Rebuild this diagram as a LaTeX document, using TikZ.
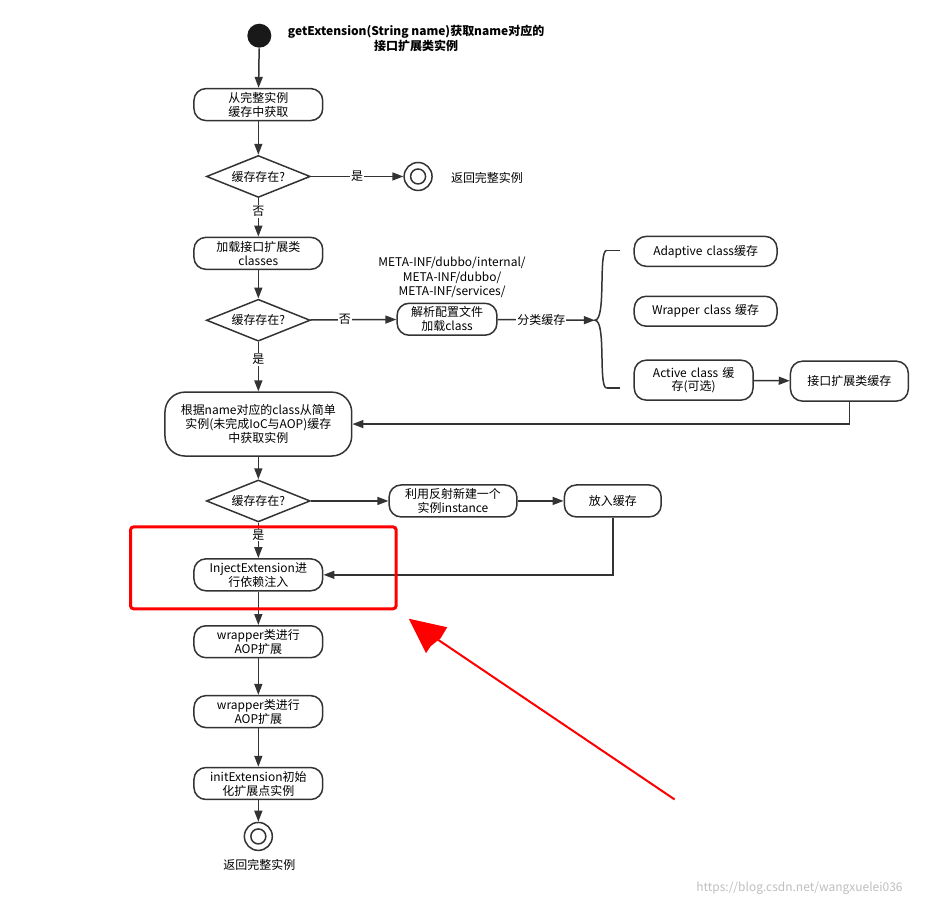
\documentclass[tikz,border=0pt]{standalone}
\usepackage{fontspec}
\setmainfont{Noto Sans CJK SC}
\usetikzlibrary{shapes.geometric,arrows.meta,decorations.pathreplacing}
\begin{document}
\begin{tikzpicture}[x=1pt,y=-1pt,
  font=\fontsize{12}{14}\selectfont,
  every path/.style={line width=1.5pt,draw=black!80},
  box/.style={draw=black!80,line width=1.5pt,rounded corners=12pt,align=center,inner sep=0pt,minimum height=32pt,text width=#1,minimum width=#1},
  box/.default=129pt,
  dia/.style={draw=black!80,line width=1.5pt,diamond,aspect=2.5,minimum width=104pt,minimum height=42pt,inner sep=0pt},
  arr/.style={-{Triangle[length=11pt,width=8pt]},line width=1.5pt,draw=black!80},
  lab/.style={fill=white,inner sep=1pt}]
\useasboundingbox (0,0) rectangle (935,909);
\fill[white] (0,0) rectangle (935,909);
\node[circle,fill=black!90,minimum size=24pt,inner sep=0pt] (s) at (259,35) {};
\node[align=center,font=\fontsize{12}{15}\selectfont\bfseries] (t) at (416,38) {getExtension(String name)获取name对应的\\接口扩展类实例};
\node[box] (b1) at (258,104) {从完整实例\\缓存中获取};
\node[dia] (d1) at (258,176) {缓存存在?};
\node[circle,draw=black!80,line width=1.5pt,minimum size=28pt,inner sep=0pt] (e1) at (418,176) {};
\node[circle,draw=black!80,line width=1.5pt,minimum size=15pt,inner sep=0pt] at (e1) {};
\node (e1t) at (487,177) {返回完整实例};
\node[box] (b2) at (258,253) {加载接口扩展类\\classes};
\node[dia] (d2) at (258,320) {缓存存在?};
\node[box=100pt] (p) at (447,319) {解析配置文件\\加载class};
\node[align=center,font=\fontsize{12}{15}\selectfont] (meta) at (452,277) {META-INF/dubbo/internal/\\META-INF/dubbo/\\META-INF/services/};
\coordinate (br) at (595,320);
\draw (607,250) .. controls (598,250) and (607,320) .. (595,320) .. controls (607,320) and (598,388) .. (607,388);
\draw (607,250) -- (620,250) (607,388) -- (620,388);
\node[box=143pt,minimum height=30pt] (ad) at (706,251) {Adaptive class缓存};
\node[box=143pt,minimum height=30pt] (wr) at (706,311) {Wrapper class 缓存};
\node[box=119pt,minimum height=40pt] (ac) at (694,380) {Active class 缓\\存(可选)};
\node[box=118pt,minimum height=40pt] (ic) at (850,381) {接口扩展类缓存};
\node[box=187pt,minimum height=64pt,rounded corners=20pt] (b3) at (258,424) {根据name对应的class从简单\\实例(未完成IoC与AOP)缓存\\中获取实例};
\node[dia] (d3) at (258,501) {缓存存在?};
\node[box=128pt] (r) at (453,501) {利用反射新建一个\\实例instance};
\node[box=97pt] (c) at (613,501) {放入缓存};
\node[box] (inj) at (258,575) {InjectExtension进\\行依赖注入};
\node[box] (w1) at (258,642) {wrapper类进行\\AOP扩展};
\node[box] (w2) at (258,712) {wrapper类进行\\AOP扩展};
\node[box] (in) at (258,784) {initExtension初始\\化扩展点实例};
\node[circle,draw=black!80,line width=1.5pt,minimum size=28pt,inner sep=0pt] (e2) at (258,837) {};
\node[circle,draw=black!80,line width=1.5pt,minimum size=15pt,inner sep=0pt] at (e2) {};
\node (e2t) at (259,866) {返回完整实例};
% connectors
\draw[arr] (s) -- (b1);
\draw[arr] (b1) -- (d1);
\draw[arr] (d1) -- node[lab]{是} (e1);
\draw[arr] (d1) -- node[lab,pos=0.35]{否} (b2);
\draw[arr] (b2) -- (d2);
\draw[arr] (d2) -- node[lab,pos=0.4]{否} (p);
\draw[arr] (p) -- node[lab,pos=0.45]{分类缓存} (br);
\draw[arr] (d2) -- node[lab,pos=0.35]{是} (b3);
\draw[arr] (ac) -- (ic);
\draw[arr] (ic.south) |- (b3.east);
\draw[arr] (b3) -- (d3);
\draw[arr] (d3) -- (r);
\draw[arr] (r) -- (c);
\draw[arr] (d3) -- node[lab,pos=0.35]{是} (inj);
\draw[arr] (c.south) |- (inj.east);
\draw[arr] (inj) -- (w1);
\draw[arr] (w1) -- (w2);
\draw[arr] (w2) -- (in);
\draw[arr] (in) -- (e2);
% highlight
\draw[red,line width=3pt,rounded corners=3pt] (130,527) rectangle (396,609);
\coordinate (rt) at (675,800);
\coordinate (rh) at (410,620);
\draw[red,line width=2pt] (rt) -- (438,640);
\fill[red] (rh) -- (446,628) -- (440,638) -- (430,646) -- (426,652) -- cycle;
\node[text=black!25,font=\fontsize{12}{14}\selectfont] (wm) at (800,889) {https://blog.csdn.net/wangxuelei036};
\end{tikzpicture}
\end{document}
